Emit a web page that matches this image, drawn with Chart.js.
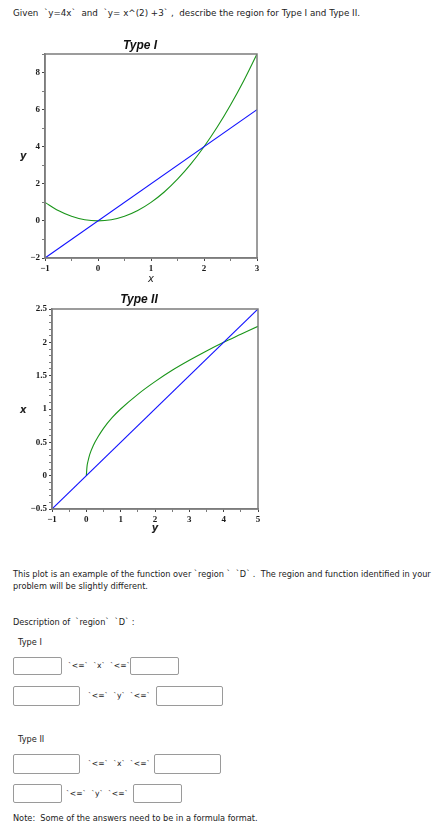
<!DOCTYPE html>
<html>
<head>
<meta charset="utf-8">
<script src="https://cdn.jsdelivr.net/npm/chart.js@4.4.0/dist/chart.umd.min.js"></script>
<style>
  body { margin: 0; width: 447px; height: 825px; position: relative; overflow: hidden; background: #fff;
         font-family: "DejaVu Sans", sans-serif; font-size: 8.2px; color: #222; }
  .t { position: absolute; white-space: pre; line-height: 10px; }
  .op { font-size: 7.6px; }
  .box { position: absolute; box-sizing: border-box; border: 1px solid #9a9a9a; border-radius: 2px; background: #fff; }
  .ax { position: absolute; font: italic bold 10px "DejaVu Sans", sans-serif; color: #222; }
  canvas { position: absolute; left: 0; }
</style>
</head>
<body>

<div class="t" style="left:13px;top:8px;font-size:8.75px">Given  `y=4x`  and  `y= x^(2) +3` ,  describe the region for Type I and Type II.</div>

<canvas id="plot1" width="280" height="250" style="top:40px"></canvas>
<div class="ax" style="left:20px;top:150px">y</div>

<canvas id="plot2" width="280" height="241" style="top:294px"></canvas>
<div class="ax" style="left:20px;top:404px">x</div>

<div class="t" style="left:13px;top:568px;line-height:12px">This plot is an example of the function over `region `  `D` .  The region and function identified in your
problem will be slightly different.</div>

<div class="t" style="left:13px;top:617px">Description of  `region`  `D` :</div>
<div class="t" style="left:18px;top:637px">Type I</div>

<div class="box" style="left:13px;top:657px;width:49px;height:18px"></div>
<div class="t op" style="left:68px;top:661px">`&lt;=`  `x`  `&lt;=`</div>
<div class="box" style="left:130px;top:657px;width:49px;height:18px"></div>

<div class="box" style="left:13px;top:686px;width:67px;height:20px"></div>
<div class="t op" style="left:88px;top:691px">`&lt;=`  `y`  `&lt;=`</div>
<div class="box" style="left:156px;top:686px;width:67px;height:20px"></div>

<div class="t" style="left:18px;top:734px">Type II</div>

<div class="box" style="left:13px;top:754px;width:67px;height:20px"></div>
<div class="t op" style="left:88px;top:759px">`&lt;=`  `x`  `&lt;=`</div>
<div class="box" style="left:154px;top:754px;width:67px;height:20px"></div>

<div class="box" style="left:13px;top:784px;width:49px;height:19px"></div>
<div class="t op" style="left:66px;top:789px">`&lt;=`  `y`  `&lt;=`</div>
<div class="box" style="left:133px;top:784px;width:49px;height:19px"></div>

<div class="t" style="left:13px;top:813px">Note:  Some of the answers need to be in a formula format.</div>

<script>
// Type I: blue line and green parabola (x across, y up)
const typeIBlueX = [-1, 3];
const typeIBlueY = [-2, 6];
const typeIGreenX = [-1, -0.75, -0.5, -0.25, 0, 0.25, 0.5, 0.75, 1, 1.25, 1.5, 1.75, 2, 2.25, 2.5, 2.75, 3];
const typeIGreenY = [1, 0.56, 0.25, 0.06, 0, 0.06, 0.25, 0.56, 1, 1.56, 2.25, 3.06, 4, 5.06, 6.25, 7.56, 9];
const typeIXTicks = [-1, 0, 1, 2, 3];
const typeIXLabels = ['\u22121', '0', '1', '2', '3'];
const typeIYTicks = [-2, 0, 2, 4, 6, 8];
const typeIYLabels = ['\u22122', '0', '2', '4', '6', '8'];

// Type II: y across, x up
const typeIIBlueY = [-1, 5];
const typeIIBlueX = [-0.5, 2.5];
const typeIIGreenY = [0, 0.02, 0.05, 0.1, 0.2, 0.35, 0.5, 0.75, 1, 1.5, 2, 2.5, 3, 3.5, 4, 4.5, 5];
const typeIIGreenX = [0, 0.14, 0.22, 0.32, 0.45, 0.59, 0.71, 0.87, 1, 1.22, 1.41, 1.58, 1.73, 1.87, 2, 2.12, 2.24];
const typeIIHTicks = [-1, 0, 1, 2, 3, 4, 5];
const typeIIHLabels = ['\u22121', '0', '1', '2', '3', '4', '5'];
const typeIIVTicks = [-0.5, 0, 0.5, 1, 1.5, 2, 2.5];
const typeIIVLabels = ['\u22120.5', '0', '0.5', '1', '1.5', '2', '2.5'];

const BLUE = '#1010ff';
const GREEN = '#1a951a';

function pts(xs, ys) {
  return xs.map((x, i) => ({ x: x, y: ys[i] }));
}

function findTick(values, v) {
  return values.findIndex(t => Math.abs(t - v) < 1e-6);
}

// box round the plot area (Chart.js only draws the left and bottom borders)
const frame = {
  id: 'frame',
  afterDraw(chart) {
    const a = chart.chartArea, ctx = chart.ctx;
    ctx.save();
    ctx.strokeStyle = '#7c7c7c';
    ctx.lineWidth = 1.5;
    ctx.strokeRect(a.left, a.top, a.right - a.left, a.bottom - a.top);
    ctx.restore();
  }
};

function axis(min, max, step, values, labels, extra) {
  return Object.assign({
    type: 'linear',
    min: min,
    max: max,
    grid: {
      drawOnChartArea: false,
      tickLength: 3,
      tickColor: '#444',
      tickWidth: c => findTick(values, c.tick.value) >= 0 ? 1 : 0.7
    },
    border: { color: '#7c7c7c', width: 1.5 },
    ticks: {
      stepSize: step,
      autoSkip: false,
      maxRotation: 0,
      padding: 2,
      color: '#1a1a1a',
      font: { family: 'Liberation Serif', weight: 'bold', size: 9 },
      callback: v => {
        const i = findTick(values, v);
        return i < 0 ? '' : labels[i];
      }
    }
  }, extra);
}

function line(data, color) {
  return {
    data: data,
    borderColor: color,
    borderWidth: 1.1,
    pointRadius: 0,
    showLine: true,
    fill: false,
    cubicInterpolationMode: 'monotone'
  };
}

// padding left/right keeps the title centred where the reference has it
function plot(id, title, datasets, xScale, yScale, pad, titlePad) {
  return new Chart(document.getElementById(id), {
    type: 'scatter',
    data: { datasets: datasets },
    options: {
      responsive: false,
      animation: false,
      events: [],
      layout: { padding: pad },
      plugins: {
        legend: { display: false },
        tooltip: { enabled: false },
        title: {
          display: true,
          text: title,
          color: '#111',
          font: { family: 'Liberation Sans', style: 'italic', weight: 'bold', size: 12, lineHeight: 1 },
          padding: { top: 0, bottom: titlePad }
        }
      },
      scales: { x: xScale, y: yScale }
    },
    plugins: [frame]
  });
}

plot('plot1', 'Type I',
  [line(pts(typeIBlueX, typeIBlueY), BLUE), line(pts(typeIGreenX, typeIGreenY), GREEN)],
  axis(-1, 3, 0.5, typeIXTicks, typeIXLabels, {
    title: { display: true, text: 'x', color: '#222', padding: { top: 0, bottom: 5 },
             font: { family: 'DejaVu Sans', style: 'italic', size: 10 } },
    afterFit: s => { s.height = 32; }
  }),
  axis(-2, 9, 1, typeIYTicks, typeIYLabels, {
    afterFit: s => { s.width = 22; }
  }),
  { left: 23, right: 23 }, 2);

plot('plot2', 'Type II',
  [line(pts(typeIIBlueY, typeIIBlueX), BLUE), line(pts(typeIIGreenY, typeIIGreenX), GREEN)],
  axis(-1, 5, 0.5, typeIIHTicks, typeIIHLabels, {
    title: { display: true, text: 'y', color: '#222', padding: { top: 0, bottom: 1 },
             font: { family: 'DejaVu Sans', style: 'italic', weight: 'bold', size: 10 } },
    afterFit: s => { s.height = 26; }
  }),
  axis(-0.5, 2.5, 0.1, typeIIVTicks, typeIIVLabels, {
    afterFit: s => { s.width = 32; }
  }),
  { left: 20, right: 22 }, 3);
</script>
</body>
</html>
